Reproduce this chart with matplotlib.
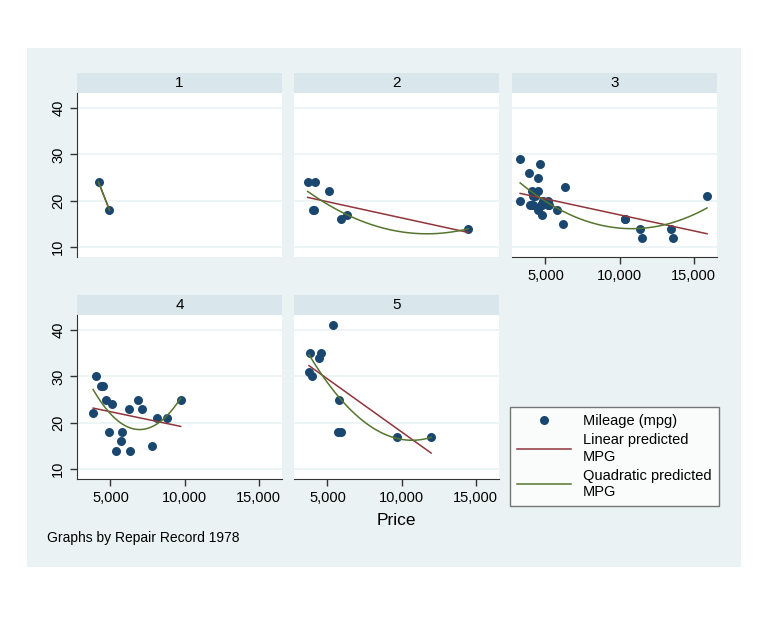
import numpy as np
import matplotlib
matplotlib.use("Agg")
import matplotlib.pyplot as plt
from matplotlib.lines import Line2D
from matplotlib.patches import Rectangle
from matplotlib.ticker import FuncFormatter

plt.rcParams['font.family'] = ['Liberation Sans', 'DejaVu Sans']

# 1978 automobile data (cars with a repair record): repair record, price, mileage
rep78 = [3, 3, 3, 4, 3, 3, 3, 3, 3, 2,
         3, 3, 4, 3, 2, 2, 3, 5, 2, 2,
         2, 4, 3, 3, 3, 3, 4, 4, 3, 4,
         3, 3, 4, 3, 3, 4, 3, 1, 3, 5,
         3, 3, 2, 4, 1, 3, 3, 2, 5, 3,
         4, 5, 4, 4, 4, 3, 5, 4, 4, 3,
         5, 5, 5, 5, 4, 5, 4, 4, 5]
price = [4099, 4749, 4816, 7827, 5788, 5189, 10372, 4082, 11385, 14500,
         15906, 3299, 5705, 4504, 5104, 3667, 3955, 3984, 4010, 5886,
         6342, 4389, 4187, 11497, 13594, 13466, 3829, 5379, 6165, 6303,
         4516, 3291, 8814, 5172, 4733, 4890, 4181, 4195, 10371, 4425,
         4647, 4482, 4060, 5798, 4934, 5222, 4723, 4172, 9690, 6295,
         9735, 4589, 6229, 5079, 8129, 4296, 5799, 4499, 3995, 3895,
         3798, 5899, 3748, 5719, 7140, 5397, 4697, 6850, 11995]
mpg = [22, 17, 20, 15, 18, 20, 16, 19, 14, 14,
       21, 29, 16, 22, 22, 24, 19, 30, 18, 16,
       17, 28, 21, 12, 12, 14, 22, 14, 15, 14,
       18, 20, 21, 19, 19, 18, 19, 24, 16, 34,
       28, 25, 18, 18, 18, 19, 19, 24, 17, 23,
       25, 35, 23, 24, 21, 21, 25, 28, 30, 26,
       35, 18, 31, 18, 23, 41, 25, 25, 17]
groups = [1, 2, 3, 4, 5]

bg = '#EAF2F3'
strip_c = '#D9E6EB'
navy = '#1A476F'
maroon = '#90353B'
green = '#55752F'

W, H = 768, 617
fig = plt.figure(figsize=(W / 100, H / 100), dpi=100, facecolor='white')
fig.patches.append(Rectangle((27 / W, 1 - 567 / H), (741 - 27) / W, (567 - 48) / H,
                             transform=fig.transFigure, facecolor=bg,
                             edgecolor='none', zorder=-10))


def px_axes(x0, y0, x1, y1, **kw):
    return fig.add_axes([x0 / W, 1 - y1 / H, (x1 - x0) / W, (y1 - y0) / H], **kw)


col_x = [77, 294, 512]
rows = [(73, 93, 257), (295, 315, 479)]
xlim = (2740, 16580)
ylim = (7.9, 43.2)

price = np.array(price)
mpg = np.array(mpg)
rep78 = np.array(rep78)

for i, g in enumerate(groups):
    r, c = divmod(i, 3)
    st, sb, pb = rows[r]
    x0 = col_x[c]
    x1 = x0 + 205
    sax = px_axes(x0, st, x1, sb)
    sax.set_facecolor(strip_c)
    sax.set_xticks([])
    sax.set_yticks([])
    for s in sax.spines.values():
        s.set_visible(False)
    sax.text(0.5, 0.5, str(g), ha='center', va='center', fontsize=11,
             transform=sax.transAxes)

    ax = px_axes(x0, sb, x1, pb)
    ax.set_facecolor('white')
    ax.set_xlim(xlim)
    ax.set_ylim(ylim)
    for s in ax.spines.values():
        s.set_visible(False)
    for yv in [10, 20, 30, 40]:
        ax.axhline(yv, color=bg, lw=1.2, zorder=0)

    m = rep78 == g
    xs, ys = price[m], mpg[m]
    deg1 = min(1, len(xs) - 1)
    deg2 = min(2, len(xs) - 1)
    grid = np.linspace(xs.min(), xs.max(), 100)
    lin = np.polyval(np.polyfit(xs, ys, deg1), grid)
    quad = np.polyval(np.polyfit(xs, ys, deg2), grid)
    ax.scatter(xs, ys, s=42, color=navy, zorder=3, linewidths=0)
    ax.plot(grid, lin, color=maroon, lw=1.1, zorder=4)
    ax.plot(grid, quad, color=green, lw=1.1, zorder=5)

    ax.set_yticks([10, 20, 30, 40])
    ax.set_xticks([5000, 10000, 15000])
    ax.xaxis.set_major_formatter(FuncFormatter(lambda v, p: f"{int(v):,}"))
    ax.tick_params(axis='both', direction='out', length=5, width=1,
                   color='#333333', labelsize=10.5)
    if c == 0:
        ax.spines['left'].set_visible(True)
        ax.spines['left'].set_color('#333333')
        for lab in ax.get_yticklabels():
            lab.set_rotation(90)
            lab.set_va('center')
    else:
        ax.tick_params(axis='y', left=False, labelleft=False)
    if i >= 2:
        ax.spines['bottom'].set_visible(True)
        ax.spines['bottom'].set_color('#333333')
    else:
        ax.tick_params(axis='x', bottom=False, labelbottom=False)
    if i == 4:
        ax.set_xlabel('Price', fontsize=12.5, labelpad=6)

handles = [Line2D([], [], ls='none', marker='o', ms=6.5, color=navy, mec='none'),
           Line2D([], [], color=maroon, lw=1.1),
           Line2D([], [], color=green, lw=1.1)]
labels = ['Mileage (mpg)', 'Linear predicted\nMPG', 'Quadratic predicted\nMPG']
leg = fig.legend(handles, labels, loc='upper left',
                 bbox_to_anchor=(510 / W, 1 - 407 / H), fontsize=10.5,
                 frameon=True, fancybox=False, edgecolor='#555555',
                 handlelength=3.7, handletextpad=0.8, labelspacing=0.35,
                 borderpad=0.5, borderaxespad=0)
leg.get_frame().set_linewidth(1.0)

fig.text(47 / W, 1 - 538 / H, 'Graphs by Repair Record 1978', fontsize=10,
         va='center', ha='left')

fig.savefig('out.png', dpi=100, facecolor='white')
